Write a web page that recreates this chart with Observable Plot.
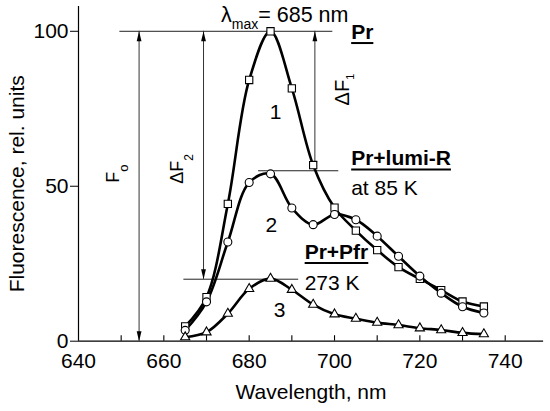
<!DOCTYPE html>
<html><head><meta charset="utf-8">
<script src="https://cdn.jsdelivr.net/npm/d3@7"></script>
<script src="https://cdn.jsdelivr.net/npm/@observablehq/plot@0.6"></script>
<style>
body{margin:0;background:#fff}
svg{font-family:"Liberation Sans",Arial,Helvetica,sans-serif}
</style>
</head><body><div id="chart"></div>
<script>
// ---- data ----
const wavelength = [665, 670, 675, 680, 685, 690, 695, 700, 705, 710, 715, 720, 725, 730, 735];
const pr       = [4.8, 14.2, 44.3, 84.3, 100, 81.6, 56.8, 43.1, 35.7, 29.4, 23.9, 20.1, 16.5, 12.8, 11.2];
const prLumiR  = [3.5, 12.7, 32.0, 51.2, 54.0, 43.0, 37.6, 40.9, 39.2, 33.9, 27.4, 21.0, 15.5, 11.1, 9.1];
const prPfr    = [1.3, 2.9, 8.9, 16.9, 20.2, 16.6, 11.8, 8.7, 7.3, 6.0, 5.2, 4.2, 3.6, 2.7, 2.3];
const xTicks = [640, 660, 680, 700, 720, 740];
const xMinorTicks = [650, 660, 670, 680, 690, 700, 710, 720, 730, 740];
const yTicks = [0, 50, 100];
// annotation levels (peak levels of the three spectra)
const levels = [100, 55, 20];
const levelFrom = [649.7, 682.2, 664.7];
const levelTo = [699.6, 701, 691.6];
// double arrows: Fo, ΔF2, ΔF1
const arrowX = [654.2, 669.3, 695.4];
const arrowLow = [0, 20, 55];
const arrowHigh = [100, 100, 100];

const rows = (vals, s) => wavelength.map((w, i) => ({w, f: vals[i], s}));
const series = [rows(pr, "1"), rows(prLumiR, "2"), rows(prPfr, "3")];
const all = series.flat();

const levelRows = levels.map((v, i) => ({v, x1: levelFrom[i], x2: levelTo[i]}));
const arrowRows = arrowX.map((x, i) => ({x, y1: arrowLow[i], y2: arrowHigh[i]}));
const heads = arrowRows.flatMap(d => [{x: d.x, y: d.y2, r: 0}, {x: d.x, y: d.y1, r: 180}]);

const headShape = {draw(ctx, l) { ctx.moveTo(0, -l); ctx.lineTo(-2.4, 0); ctx.lineTo(2.4, 0); ctx.closePath(); }};

const F = 21;
const chart = Plot.plot({
  width: 550, height: 411,
  marginLeft: 78, marginRight: 6.9, marginTop: 6, marginBottom: 70.3,
  x: {domain: [640, 749]},
  y: {domain: [0, 108]},
  style: {fontFamily: '"Liberation Sans", Arial, sans-serif', fontSize: F + "px", color: "#000", background: "#fff"},
  marks: [
    // axes
    Plot.ruleY([0], {stroke: "#000", strokeWidth: 1.2}),
    Plot.ruleX([640], {stroke: "#000", strokeWidth: 1.2}),
    Plot.tickX(xMinorTicks, {x: d => d, insetTop: 411 - 6 - 70.3 - 5.5, stroke: "#000", strokeWidth: 1.1}),
    Plot.axisX({ticks: xTicks, tickSize: 0, tickPadding: 11.5, label: null, fontSize: F}),
    Plot.axisY({ticks: yTicks, tickSize: 8, tickPadding: 2, label: null, fontSize: F, stroke: "#000"}),
    Plot.text(["Wavelength, nm"], {frameAnchor: "bottom", dy: 57.6, lineAnchor: "bottom", fontSize: F}),
    Plot.text(["Fluorescence, rel. units"], {x: 627.2, y: 50.8, rotate: -90, lineAnchor: "bottom", fontSize: F}),
    // level lines
    Plot.ruleY(levelRows, {y: "v", x1: "x1", x2: "x2", stroke: "#222", strokeWidth: 1}),
    // double arrows
    Plot.ruleX(arrowRows, {x: "x", y1: "y1", y2: "y2", stroke: "#333", strokeWidth: 1}),
    Plot.vector(heads, {x: "x", y: "y", rotate: "r", length: 10, anchor: "end", shape: headShape, fill: "#000", stroke: "none"}),
    // spectra
    Plot.line(all, {x: "w", y: "f", z: "s", curve: "catmull-rom", stroke: "#000", strokeWidth: 2.6}),
    Plot.dot(series[0], {x: "w", y: "f", symbol: "square", r: 4.1, fill: "#fff", stroke: "#000", strokeWidth: 1.1}),
    Plot.dot(series[1], {x: "w", y: "f", symbol: "circle", r: 4, fill: "#fff", stroke: "#000", strokeWidth: 1.1}),
    Plot.dot(series[2], {x: "w", y: "f", symbol: "triangle", r: 3.4, fill: "#fff", stroke: "#000", strokeWidth: 1.1}),
    // annotations
    Plot.text(["λ_{max}= 685 nm"], {x: 673.4, y: 103.1, textAnchor: "start", lineAnchor: "bottom", fontSize: 21.5}),
    Plot.text(["Pr"], {x: 703.9, y: 97.5, textAnchor: "start", lineAnchor: "bottom", fontSize: F, fontWeight: "bold"}),
    Plot.text(["Pr+lumi-R"], {x: 703.9, y: 56.7, textAnchor: "start", lineAnchor: "bottom", fontSize: F, fontWeight: "bold"}),
    Plot.text(["at 85 K"], {x: 703.9, y: 47.2, textAnchor: "start", lineAnchor: "bottom", fontSize: F}),
    Plot.text(["Pr+Pfr"], {x: 693, y: 26.5, textAnchor: "start", lineAnchor: "bottom", fontSize: F, fontWeight: "bold"}),
    Plot.text(["273 K"], {x: 693, y: 16.6, textAnchor: "start", lineAnchor: "bottom", fontSize: F}),
    Plot.text(["1"], {x: 686.2, y: 71.8, lineAnchor: "bottom", fontSize: F}),
    Plot.text(["2"], {x: 685.2, y: 35.2, lineAnchor: "bottom", fontSize: F}),
    Plot.text(["3"], {x: 687.1, y: 7.7, lineAnchor: "bottom", fontSize: F}),
    Plot.text(["F_{o}"], {x: 649.4, y: 54.1, rotate: -90, lineAnchor: "bottom", fontSize: 18}),
    Plot.text(["ΔF_{2}"], {x: 664.4, y: 55.6, rotate: -90, lineAnchor: "bottom", fontSize: 18}),
    Plot.text(["ΔF_{1}"], {x: 703.3, y: 81.2, rotate: -90, lineAnchor: "bottom", fontSize: 20})
  ]
});
document.getElementById("chart").appendChild(chart);

// subscripts
const subSpec = {"λ_{max}= 685 nm": [14, 7], "F_{o}": [13, 9], "ΔF_{2}": [12, 10], "ΔF_{1}": [11, 5]};
chart.querySelectorAll("text").forEach(t => {
  const s = t.textContent;
  if (!subSpec[s]) return;
  const [size, drop] = subSpec[s];
  const sel = d3.select(t);
  sel.text(null);
  let shifted = false;
  for (const p of s.split(/(_\{[^}]*\})/)) {
    if (!p) continue;
    if (p.startsWith("_{")) {
      sel.append("tspan").attr("font-size", size).attr("dy", drop).text(p.slice(2, -1));
      shifted = true;
    } else {
      const ts = sel.append("tspan").text(p);
      if (shifted) { ts.attr("dy", -drop); shifted = false; }
    }
  }
});
// underlines
const underlined = ["Pr", "Pr+lumi-R", "Pr+Pfr"];
chart.querySelectorAll("text").forEach(t => {
  if (!underlined.includes(t.textContent)) return;
  const b = t.getBBox();
  const line = document.createElementNS("http://www.w3.org/2000/svg", "line");
  line.setAttribute("x1", b.x); line.setAttribute("x2", b.x + b.width);
  line.setAttribute("y1", 4); line.setAttribute("y2", 4);
  line.setAttribute("stroke", "#000"); line.setAttribute("stroke-width", 2);
  const tr = t.getAttribute("transform");
  if (tr) line.setAttribute("transform", tr);
  t.parentNode.appendChild(line);
});
</script>
</body></html>
